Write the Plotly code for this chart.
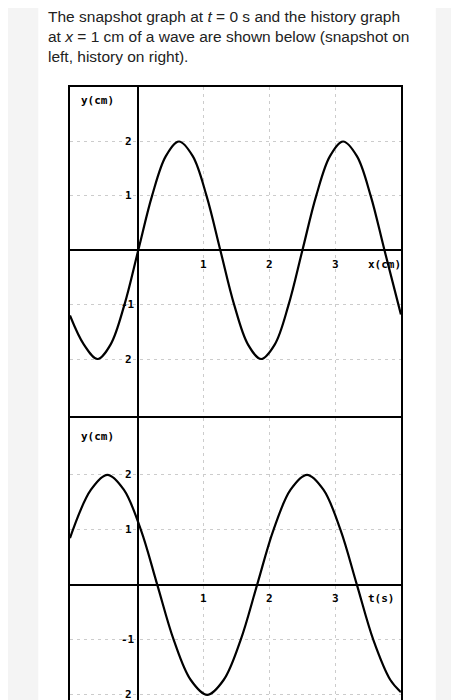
import plotly.graph_objects as go

# snapshot graph (t = 0 s)
snap_x = [-1.04, -0.83, -0.62, -0.42, -0.21, 0.0, 0.21, 0.42, 0.62, 0.83, 1.04, 1.25, 1.46, 1.67, 1.87, 2.08, 2.29, 2.5, 2.71, 2.92, 3.12, 3.33, 3.54, 3.75, 4.0]
snap_y = [-1.2, -1.73, -2.0, -1.73, -1.0, 0.0, 1.0, 1.73, 2.0, 1.73, 1.0, 0.0, -1.0, -1.73, -2.0, -1.73, -1.0, 0.0, 1.0, 1.73, 2.0, 1.73, 1.0, 0.0, -1.18]
# history graph (x = 1 cm)
hist_t = [-1.04, -0.72, -0.47, -0.22, 0.04, 0.29, 0.54, 0.80, 1.05, 1.30, 1.56, 1.81, 2.06, 2.32, 2.57, 2.82, 3.08, 3.33, 3.58, 3.84, 4.0]
hist_y = [0.85, 1.73, 2.0, 1.73, 1.0, 0.0, -1.0, -1.73, -2.0, -1.73, -1.0, 0.0, 1.0, 1.73, 2.0, 1.73, 1.0, 0.0, -1.0, -1.73, -1.95]
x_ticks = [1, 2, 3]
top_yticks = [2, 1, -1, -2]
top_ylabels = ["2", "1", "-1", "2"]
bot_yticks = [2, 1, -1, -2]
bot_ylabels = ["2", "1", "-1", "2"]

fig = go.Figure()
fig.add_trace(go.Scatter(x=snap_x, y=snap_y, mode="lines", line=dict(color="black", width=2.2, shape="spline", smoothing=1.0), xaxis="x", yaxis="y"))
fig.add_trace(go.Scatter(x=hist_t, y=hist_y, mode="lines", line=dict(color="black", width=2.2, shape="spline", smoothing=1.0), xaxis="x2", yaxis="y2"))

ax = dict(showticklabels=False, ticks="", showgrid=True, gridcolor="#cccccc", griddash="3px,4px",
          zeroline=True, zerolinecolor="black", zerolinewidth=1.5, showline=True, mirror=True,
          linecolor="black", linewidth=1.5)
fig.update_layout(
    width=459, height=700, margin=dict(l=0, r=0, t=0, b=0),
    paper_bgcolor="#f4f4f4", plot_bgcolor="white", showlegend=False,
    xaxis=dict(ax, domain=[0.135, 0.856], range=[-1.04, 4.0], tickvals=x_ticks),
    yaxis=dict(ax, domain=[0.417, 0.887], range=[-3.05, 3.0], tickvals=top_yticks),
    xaxis2=dict(ax, domain=[0.135, 0.856], range=[-1.04, 4.0], tickvals=x_ticks, anchor="y2"),
    yaxis2=dict(ax, domain=[0.007, 0.414], range=[-2.15, 3.03], tickvals=bot_yticks, anchor="x2"),
)
fig.add_shape(type="rect", xref="paper", yref="paper", x0=0.066, x1=0.932, y0=0, y1=1,
              fillcolor="white", line=dict(width=0), layer="below")

mono = dict(family="DejaVu Sans Mono", size=11, color="black")
for xv in x_ticks:
    fig.add_annotation(x=xv, y=0, xref="x", yref="y", text=f"<b>{xv}</b>", showarrow=False, font=mono, yshift=-14)
    fig.add_annotation(x=xv, y=0, xref="x2", yref="y2", text=f"<b>{xv}</b>", showarrow=False, font=mono, yshift=-14)
for yv, lab in zip(top_yticks, top_ylabels):
    fig.add_annotation(x=0, y=yv, xref="x", yref="y", text=f"<b>{lab}</b>", showarrow=False, font=mono, xshift=-10)
for yv, lab in zip(bot_yticks, bot_ylabels):
    fig.add_annotation(x=0, y=yv, xref="x2", yref="y2", text=f"<b>{lab}</b>", showarrow=False, font=mono, xshift=-10)
fig.add_annotation(x=-0.62, y=2.75, xref="x", yref="y", text="<b>y(cm)</b>", showarrow=False, font=mono)
fig.add_annotation(x=-0.62, y=2.7, xref="x2", yref="y2", text="<b>y(cm)</b>", showarrow=False, font=mono)
fig.add_annotation(x=3.75, y=0, xref="x", yref="y", text="<b>x(cm)</b>", showarrow=False, font=mono, yshift=-14)
fig.add_annotation(x=3.7, y=0, xref="x2", yref="y2", text="<b>t(s)</b>", showarrow=False, font=mono, yshift=-14)

fig.add_annotation(xref="paper", yref="paper", x=0.083, y=1.003, xanchor="left", yanchor="top", align="left",
                   showarrow=False, font=dict(family="Liberation Sans", size=15.5, color="#222"),
                   text="The snapshot graph at <i>t</i> = 0 s and the history graph<br>at <i>x</i> = 1 cm of a wave are shown below (snapshot on<br>left, history on right).")

fig.write_html("out.html")
